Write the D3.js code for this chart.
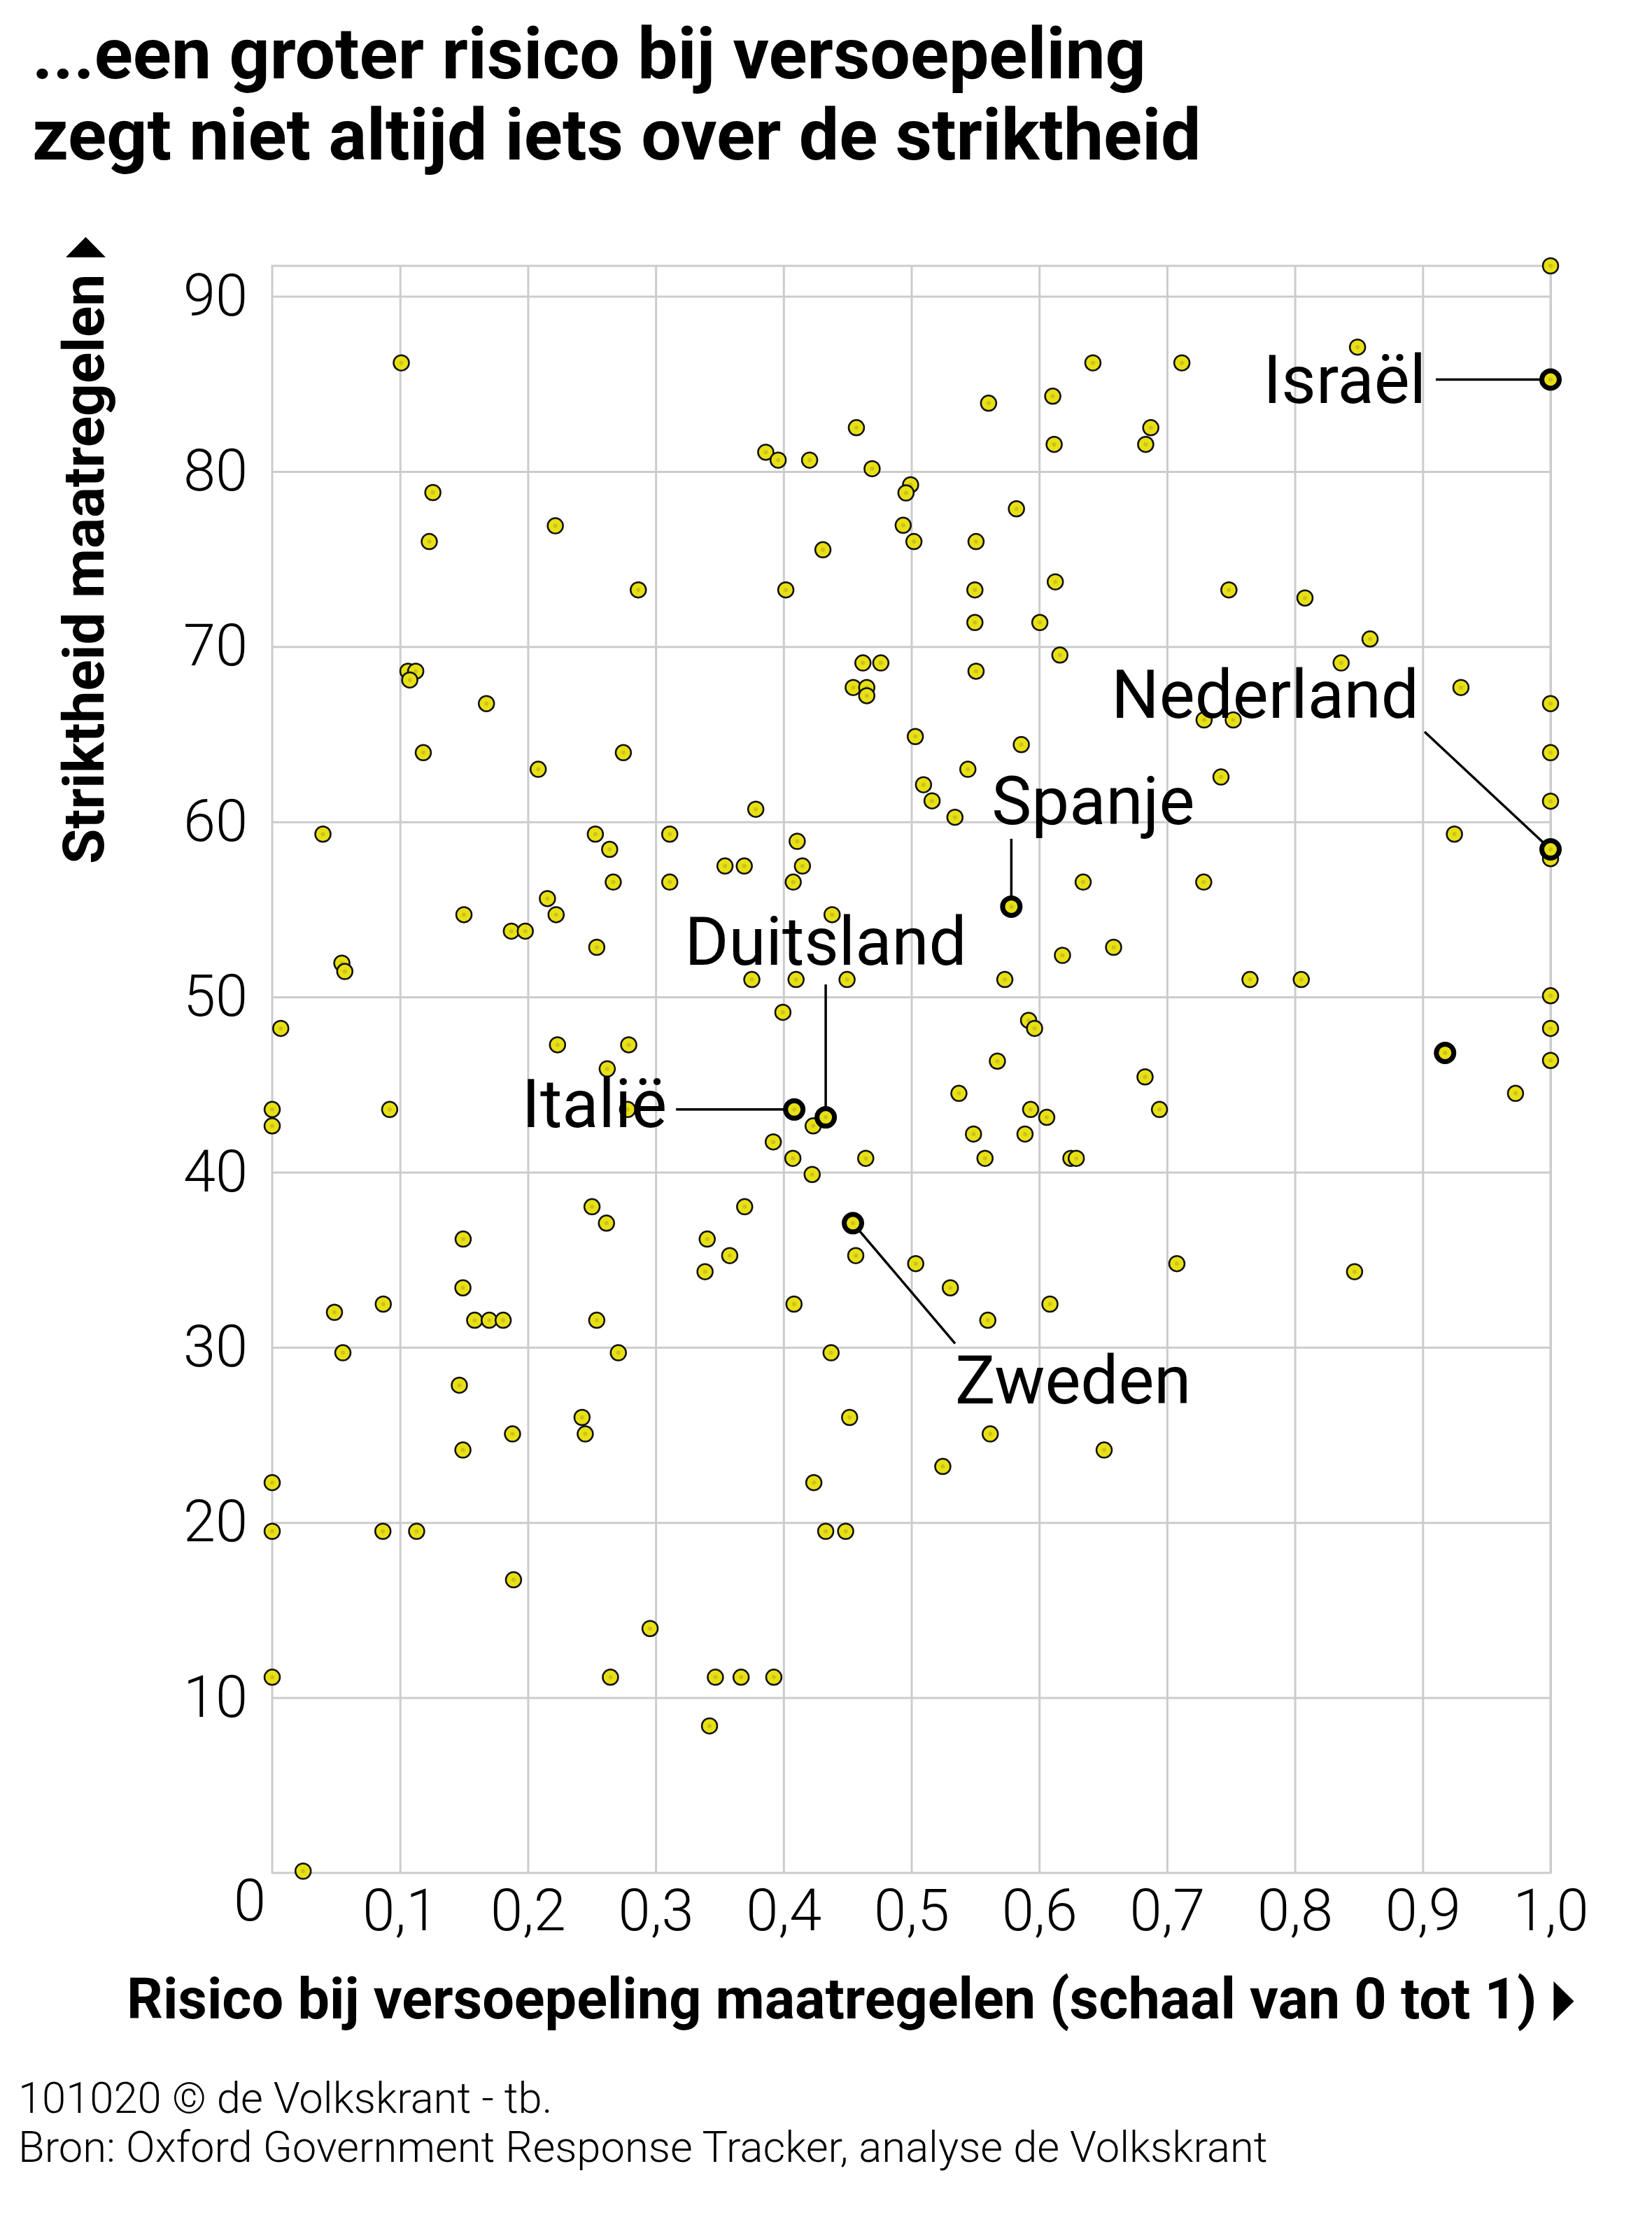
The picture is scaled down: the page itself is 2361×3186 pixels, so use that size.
<!DOCTYPE html>
<html lang="nl">
<head>
<meta charset="utf-8">
<script src="https://cdn.jsdelivr.net/npm/d3@7"></script>
<style>
	body { margin: 0; background: #fff; }
	figure { margin: 0; }
	svg { display: block; font-family: Roboto, "Noto Sans", sans-serif; }
</style>
</head>
<body>
<figure id="scatter"></figure>
<script>
// risico bij versoepeling (0-1) en striktheid maatregelen per land
const risico = [
	1.0, 0.101, 0.642, 0.7116, 0.849, 0.6106, 0.5604, 0.457, 0.6873, 0.6833,
	0.6117, 0.3861, 0.3958, 0.4204, 0.4693, 0.1257, 0.4994, 0.4958, 0.5822, 0.2215,
	0.4936, 0.1229, 0.502, 0.5506, 0.4308, 0.2864, 0.4018, 0.5497, 0.6126, 0.7484,
	0.8079, 0.5497, 0.6005, 0.8588, 0.6162, 0.1062, 0.1123, 0.1076, 0.4621, 0.4761,
	0.8362, 0.5506, 0.1676, 1.0, 0.9299, 0.4545, 0.4651, 0.4651, 0.5031, 0.586,
	0.729, 0.7518, 0.1182, 0.2747, 1.0, 0.2081, 0.5442, 0.7422, 0.5095, 0.5162,
	1.0, 0.5341, 0.3783, 0.0397, 0.2528, 0.311, 0.9248, 0.4107, 0.264, 1.0,
	0.3542, 0.3693, 0.4148, 0.2668, 0.311, 0.4076, 0.6344, 0.7287, 0.150, 0.2153,
	0.2221, 0.438, 0.1871, 0.198, 0.2539, 0.6582, 0.6182, 0.0545, 0.0568, 0.3752,
	0.4098, 0.4497, 0.5731, 0.7649, 0.805, 1.0, 0.3995, 0.5917, 0.5964, 0.0067,
	1.0, 0.2232, 0.2789, 0.5673, 0.2621, 1.0, 0.6828, 0.5372, 0.9726, 0.0,
	0.0919, 0.278, 0.5933, 0.6941, 0.0, 0.6059, 0.4232, 0.5486, 0.5889, 0.392,
	0.4073, 0.4643, 0.5576, 0.6248, 0.629, 0.4224, 0.2502, 0.3696, 0.2615, 0.1494,
	0.3403, 0.3579, 0.4565, 0.5034, 0.7077, 0.3386, 0.8467, 0.1492, 0.5305, 0.0487,
	0.0869, 0.4082, 0.6084, 0.1584, 0.1698, 0.1807, 0.2539, 0.5598, 0.0553, 0.2708,
	0.4372, 0.1464, 0.2424, 0.4517, 0.188, 0.2449, 0.5617, 0.1492, 0.6508, 0.5246,
	0.0, 0.4237, 0.0, 0.0866, 0.113, 0.433, 0.4486, 0.1888, 0.2956, 0.0,
	0.2646, 0.3467, 0.3668, 0.3924, 0.3421, 0.0242
];
const striktheid = [
	91.74, 86.2, 86.2, 86.2, 87.1, 84.3, 83.9, 82.5, 82.5, 81.55,
	81.55, 81.1, 80.65, 80.65, 80.16, 78.8, 79.24, 78.78, 77.87, 76.9,
	76.93, 76.0, 76.0, 76.0, 75.53, 73.24, 73.24, 73.24, 73.7, 73.24,
	72.78, 71.38, 71.38, 70.44, 69.52, 68.6, 68.6, 68.1, 69.07, 69.07,
	69.07, 68.6, 66.75, 66.75, 67.67, 67.67, 67.67, 67.2, 64.87, 64.41,
	65.82, 65.82, 63.95, 63.95, 63.95, 63.0, 63.0, 62.56, 62.12, 61.2,
	61.18, 60.26, 60.72, 59.3, 59.3, 59.3, 59.3, 58.89, 58.43, 57.9,
	57.48, 57.48, 57.48, 56.56, 56.56, 56.56, 56.56, 56.56, 54.7, 55.62,
	54.7, 54.7, 53.76, 53.76, 52.84, 52.84, 52.38, 51.93, 51.46, 51.0,
	51.0, 51.0, 51.0, 51.0, 51.0, 50.07, 49.13, 48.67, 48.21, 48.21,
	48.21, 47.27, 47.27, 46.34, 45.9, 46.38, 45.44, 44.5, 44.5, 43.58,
	43.58, 43.58, 43.58, 43.58, 42.64, 43.13, 42.64, 42.18, 42.18, 41.73,
	40.79, 40.79, 40.79, 40.79, 40.79, 39.87, 38.03, 38.03, 37.09, 36.18,
	36.18, 35.24, 35.24, 34.78, 34.78, 34.32, 34.32, 33.4, 33.4, 32.0,
	32.47, 32.47, 32.47, 31.55, 31.55, 31.55, 31.55, 31.55, 29.69, 29.69,
	29.69, 27.84, 26.0, 26.0, 25.06, 25.06, 25.06, 24.14, 24.14, 23.2,
	22.28, 22.28, 19.5, 19.5, 19.5, 19.5, 19.5, 16.73, 13.95, 11.17,
	11.17, 11.17, 11.17, 11.17, 8.39, 0.1
];

// uitgelichte landen (de laatste zonder label)
const landen = ["Israël", "Nederland", "Spanje", "Duitsland", "Italië", "Zweden", ""];
const landRisico = [1.0, 1.0, 0.5782, 0.433, 0.4084, 0.4543, 0.9175];
const landStriktheid = [85.25, 58.43, 55.16, 43.13, 43.58, 37.09, 46.81];

const yTicks = [10, 20, 30, 40, 50, 60, 70, 80, 90];
const xTicks = [0.1, 0.2, 0.3, 0.4, 0.5, 0.6, 0.7, 0.8, 0.9, 1.0];

const titel = ["...een groter risico bij versoepeling", "zegt niet altijd iets over de striktheid"];
const xTitel = "Risico bij versoepeling maatregelen (schaal van 0 tot 1)";
const yTitel = "Striktheid maatregelen";
const voetnoot = ["101020 © de Volkskrant - tb.", "Bron: Oxford Government Response Tracker, analyse de Volkskrant"];

// plaatsing van de labels t.o.v. het punt (pixels)
const labelLayout = {
	"Israël": { tx: -178, ty: 34, anchor: "end", lx: -164, ly: 0 },
	"Nederland": { tx: -188, ty: -188, anchor: "end", lx: -180, ly: -168 },
	"Spanje": { tx: -28, ty: -118, anchor: "start", lx: 0, ly: -97 },
	"Duitsland": { tx: 0, ty: -218, anchor: "middle", lx: 0, ly: -190 },
	"Italië": { tx: -182, ty: 25, anchor: "end", lx: -169, ly: 0 },
	"Zweden": { tx: 146, ty: 258, anchor: "start", lx: 146, ly: 172 }
};

class RisicoPlot {

	constructor() {
		this.width = 2361;
		this.height = 3186;
		this.left = 389;
		this.right = 2216;
		this.top = 380;
		this.bottom = 2677;
		this.yellow = "#e8e014";
		this.gridColor = "#cccccc";
	}

	init() {
		this.svg = d3.select("figure#scatter").append("svg")
			.attr("width", this.width)
			.attr("height", this.height)
			.attr("viewBox", `0 0 ${this.width} ${this.height}`);

		this.xScale = d3.scaleLinear()
			.domain([0, 1])
			.range([this.left, this.right]);
		const ymax = d3.max(striktheid.concat(landStriktheid));
		this.yScale = d3.scaleLinear()
			.domain([0, ymax])
			.range([this.bottom, this.top]);
	}

	draw() {
		this.drawTitles();
		this.drawGrid();
		this.drawPoints();
		this.drawLabels();
	}

	drawTitles() {
		const svg = this.svg;
		svg.append("g")
			.selectAll("text")
			.data(titel)
			.enter()
			.append("text")
			.attr("x", 46)
			.attr("y", (d, i) => 112 + i * 116)
			.attr("font-size", 102)
			.attr("font-weight", 700)
			.text((d) => d);

		// x-as titel met pijltje
		const xt = svg.append("text")
			.attr("x", 181)
			.attr("y", 2885)
			.attr("font-size", 81)
			.attr("font-weight", 700)
			.text(xTitel);
		const xEnd = 181 + xt.node().getComputedTextLength() + 24;
		svg.append("path")
			.attr("d", `M${xEnd},2832 L${xEnd + 29},2860.5 L${xEnd},2889 Z`)
			.attr("fill", "#000");

		// y-as titel, gedraaid
		const yt = svg.append("text")
			.attr("transform", "translate(148,1235) rotate(-90)")
			.attr("font-size", 82)
			.attr("font-weight", 700)
			.text(yTitel);
		const yEnd = 1235 - yt.node().getComputedTextLength() - 24;
		svg.append("path")
			.attr("d", `M94,${yEnd} L122.5,${yEnd - 29} L151,${yEnd} Z`)
			.attr("fill", "#000");

		svg.append("g")
			.selectAll("text")
			.data(voetnoot)
			.enter()
			.append("text")
			.attr("x", 26)
			.attr("y", (d, i) => 3020 + i * 70)
			.attr("font-size", 61.5)
			.attr("font-weight", 300)
			.text((d) => d);
	}

	drawGrid() {
		const svg = this.svg;
		const nl = d3.formatLocale({ decimal: ",", thousands: ".", grouping: [3], currency: ["€", ""] });

		const yAxis = svg.append("g")
			.attr("transform", `translate(${this.left},0)`)
			.call(d3.axisLeft(this.yScale)
				.tickValues(yTicks)
				.tickSize(-(this.right - this.left))
				.tickPadding(35)
				.tickFormat(d3.format("d")));

		const xAxis = svg.append("g")
			.attr("transform", `translate(0,${this.bottom})`)
			.call(d3.axisBottom(this.xScale)
				.tickValues(xTicks)
				.tickSize(-(this.bottom - this.top))
				.tickPadding(23)
				.tickFormat(nl.format(".1f")));

		[xAxis, yAxis].forEach((ax) => {
			ax.select(".domain").remove();
			ax.selectAll(".tick line")
				.attr("stroke", this.gridColor)
				.attr("stroke-width", 3);
			ax.selectAll(".tick text")
				.attr("fill", "#000")
				.attr("font-family", "Roboto, sans-serif")
				.attr("font-weight", 300)
				.attr("font-size", 83);
		});

		svg.append("rect")
			.attr("x", this.left)
			.attr("y", this.top)
			.attr("width", this.right - this.left)
			.attr("height", this.bottom - this.top)
			.attr("fill", "none")
			.attr("stroke", this.gridColor)
			.attr("stroke-width", 3);

		// de gedeelde nul in de hoek
		svg.append("text")
			.attr("x", this.xScale(0) - 32)
			.attr("y", 2745)
			.attr("text-anchor", "middle")
			.attr("font-size", 83)
			.attr("font-weight", 300)
			.text("0");
	}

	drawPoints() {
		const pts = d3.zip(risico, striktheid);
		const dots = this.svg.append("g")
			.selectAll(".dot")
			.data(pts)
			.enter()
			.append("g")
			.attr("class", "dot")
			.attr("transform", (d) => `translate(${this.xScale(d[0])},${this.yScale(d[1])})`);
		dots.append("circle")
			.attr("r", 11)
			.attr("fill", this.yellow)
			.attr("stroke", "#111")
			.attr("stroke-width", 2.5);
		dots.append("circle")
			.attr("r", 3)
			.attr("fill", "#c9c31c");
	}

	drawLabels() {
		const rows = landen.map((naam, i) => ({ naam: naam, x: landRisico[i], y: landStriktheid[i] }));
		const g = this.svg.append("g");

		// lijntjes eerst, zodat de ring erover valt
		g.selectAll(".leader")
			.data(rows.filter((d) => d.naam !== ""))
			.enter()
			.append("line")
			.attr("class", "leader")
			.attr("x1", (d) => this.xScale(d.x) + labelLayout[d.naam].lx)
			.attr("y1", (d) => this.yScale(d.y) + labelLayout[d.naam].ly)
			.attr("x2", (d) => this.xScale(d.x))
			.attr("y2", (d) => this.yScale(d.y))
			.attr("stroke", "#000")
			.attr("stroke-width", 3.5);

		const hl = g.selectAll(".hl")
			.data(rows)
			.enter()
			.append("g")
			.attr("class", "hl")
			.attr("transform", (d) => `translate(${this.xScale(d.x)},${this.yScale(d.y)})`);
		hl.append("circle")
			.attr("r", 12.5)
			.attr("fill", this.yellow)
			.attr("stroke", "#000")
			.attr("stroke-width", 7);
		hl.append("circle")
			.attr("r", 3)
			.attr("fill", "#c9c31c");

		g.selectAll(".lbl")
			.data(rows.filter((d) => d.naam !== ""))
			.enter()
			.append("text")
			.attr("class", "lbl")
			.attr("x", (d) => this.xScale(d.x) + labelLayout[d.naam].tx)
			.attr("y", (d) => this.yScale(d.y) + labelLayout[d.naam].ty)
			.attr("text-anchor", (d) => labelLayout[d.naam].anchor)
			.attr("font-size", 96)
			.attr("font-weight", 400)
			.text((d) => d.naam);
	}
}

const plot = new RisicoPlot();
plot.init();
plot.draw();
</script>
</body>
</html>
